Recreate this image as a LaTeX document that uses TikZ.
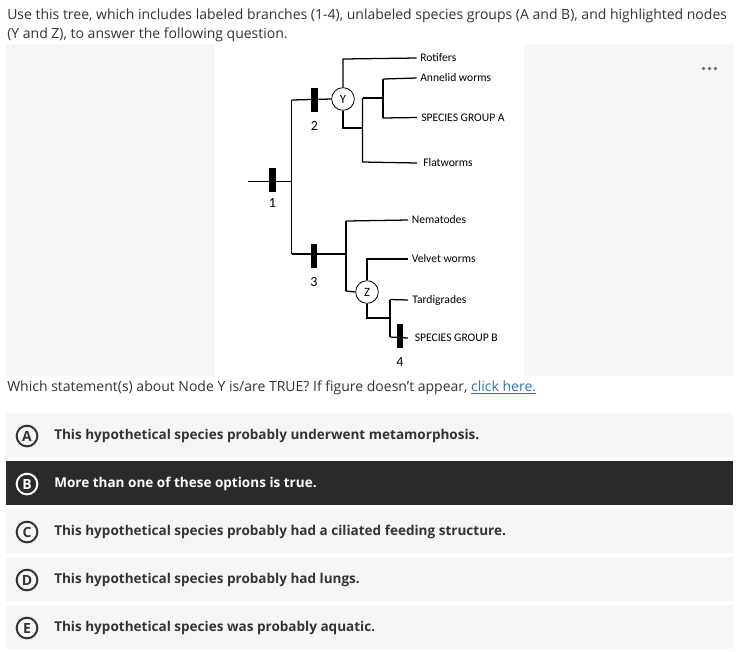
\documentclass[tikz,border=0pt]{standalone}
\usepackage{fontspec}
\setmainfont{Open Sans}
\newfontfamily\treefont{Carlito}
\definecolor{panelgray}{HTML}{F6F6F6}
\definecolor{optgray}{HTML}{F6F6F6}
\definecolor{optdark}{HTML}{2A2A2A}
\definecolor{txt}{HTML}{333333}
\definecolor{linkblue}{HTML}{2B79AE}
\definecolor{dotgray}{HTML}{707070}
\tikzset{
  uitext/.style={font=\fontsize{10.5pt}{12pt}\selectfont, text=txt, inner sep=0pt, anchor=base west},
  branch/.style={line width=0.95pt, draw=black},
  bar/.style={fill=black, minimum width=4.9pt, minimum height=18pt, inner sep=0pt},
  taxon/.style={font=\treefont\fontsize{8.7pt}{9pt}\selectfont, anchor=west, inner sep=0pt},
  brlabel/.style={font=\treefont\fontsize{10.5pt}{11pt}\selectfont, inner sep=0pt},
  hnode/.style={circle, draw=black, line width=0.6pt, fill=white, minimum size=17pt, inner sep=0pt, font=\treefont\fontsize{9.5pt}{10pt}\selectfont},
  optcirc/.style={circle, draw=#1, line width=1.5pt, minimum size=15.5pt, inner sep=0pt, font=\bfseries\fontsize{10.5pt}{11pt}\selectfont, text=#1},
  opttext/.style={font=\bfseries\fontsize{10.15pt}{12pt}\selectfont, text=#1, inner sep=0pt, anchor=west}
}
\begin{document}
\begin{tikzpicture}[x=0.75pt,y=-0.75pt]
\useasboundingbox (0,0) rectangle (745,651);
\fill[white] (0,0) rectangle (745,651);
% header text
\node[uitext] (h1) at (7,19) {Use this tree, which includes labeled branches (1-4), unlabeled species groups (A and B), and highlighted nodes};
\node[uitext] (h2) at (7,38) {(Y and Z), to answer the following question.};
% figure panel
\fill[panelgray] (6,44) rectangle (733,376);
\fill[white] (215,44) rectangle (524,376);
\foreach \dx in {703.5,709.5,715.5} \fill[dotgray] (\dx,68.5) circle (1.9);
% tree
\coordinate (r0) at (248,181.5);
\coordinate (r1) at (291.7,181.5);
\coordinate (u0) at (291.7,100);
\coordinate (l0) at (291.7,254);
\node[brlabel] (n1) at (272.5,203) {1};
\node[hnode] (Y) at (343,99) {Y};
\node[brlabel] (n2) at (314.3,126) {2};
\node[taxon] (rot) at (420,58) {Rotifers};
\node[taxon] (ann) at (420,78) {Annelid worms};
\node[taxon] (sga) at (421,117.5) {SPECIES GROUP A};
\node[taxon] (flat) at (423,163) {Flatworms};
\coordinate (yup) at (343,59);
\coordinate (ydn) at (343,128);
\coordinate (a0) at (362.5,128);
\coordinate (a1) at (362.5,98);
\coordinate (a2) at (362.5,162);
\coordinate (c0) at (383,98);
\coordinate (c1) at (383,79);
\coordinate (c2) at (383,118);
\draw[branch] (r0) -- (r1);
\draw[branch] (u0) -- (l0);
\draw[branch] (u0) -- (Y.west);
\draw[branch] (Y.north) -- (yup) -- ([xshift=-2.5pt]rot.west);
\draw[branch] (Y.south) -- (ydn) -- (a0);
\draw[branch] (a1) -- (a2) -- ([xshift=-4.5pt]flat.west);
\draw[branch] (a1) -- (c0);
\draw[branch] (c1) -- (c2);
\draw[branch] (c1) -- ([xshift=-2.5pt]ann.west);
\draw[branch] (c2) -- ([xshift=-3pt]sga.west);
\node[bar] (b1) at (272.7,179.7) {};
\node[bar] (b2) at (314.3,100) {};
% lower clade
\node[brlabel] (n3) at (314,282) {3};
\node[hnode] (Z) at (367,292) {Z};
\node[taxon] (nem) at (411.5,220) {Nematodes};
\node[taxon] (vel) at (411.5,259) {Velvet worms};
\node[taxon] (tar) at (412,300) {Tardigrades};
\node[taxon] (sgb) at (414.5,338) {SPECIES GROUP B};
\coordinate (m0) at (346,254);
\coordinate (m1) at (346,221);
\coordinate (m2) at (346,291);
\coordinate (zup) at (367,259);
\coordinate (zdn) at (367,318);
\coordinate (t0) at (390,318);
\coordinate (t1) at (390,299.5);
\coordinate (t2) at (390,337);
\draw[branch] (l0) -- (m0);
\draw[branch] (m1) -- (m2);
\draw[branch] (m1) -- ([xshift=-2.5pt]nem.west);
\draw[branch] (m2) -- (Z.west);
\draw[branch] (Z.north) -- (zup) -- ([xshift=-2.5pt]vel.west);
\draw[branch] (Z.south) -- (zdn) -- (t0);
\draw[branch] (t1) -- (t2);
\draw[branch] (t1) -- ([xshift=-3pt]tar.west);
\draw[branch] (t2) -- ([xshift=-5pt]sgb.west);
\node[bar] (b3) at (314,256) {};
\node[bar] (b4) at (400,335.5) {};
\node[brlabel] (n4) at (400,362) {4};
% question
\node[uitext] (q) at (7,391) {Which statement(s) about Node Y is/are TRUE? If figure doesn't appear, \textcolor{linkblue}{\underline{click here.}}};
% options
\fill[optgray] (6,413) rectangle (733,457);
\node[optcirc=txt] (oa) at (27,436) {A};
\node[opttext=txt] (ta) at (54,436) {This hypothetical species probably underwent metamorphosis.};
\fill[optdark] (6,461) rectangle (733,505);
\node[optcirc=white] (ob) at (27,484) {B};
\node[opttext=white] (tb) at (54,484) {More than one of these options is true.};
\fill[optgray] (6,509) rectangle (733,553);
\node[optcirc=txt] (oc) at (27,532) {C};
\node[opttext=txt] (tc) at (54,532) {This hypothetical species probably had a ciliated feeding structure.};
\fill[optgray] (6,557) rectangle (733,601);
\node[optcirc=txt] (od) at (27,580) {D};
\node[opttext=txt] (td) at (54,580) {This hypothetical species probably had lungs.};
\fill[optgray] (6,605) rectangle (733,649);
\node[optcirc=txt] (oe) at (27,628) {E};
\node[opttext=txt] (te) at (54,628) {This hypothetical species was probably aquatic.};
\end{tikzpicture}
\end{document}
